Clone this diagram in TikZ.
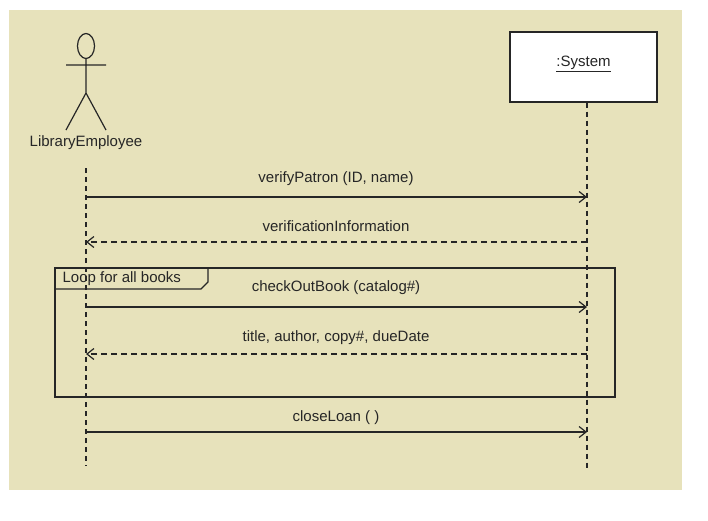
\documentclass[tikz,border=0pt]{standalone}
\usepackage{fontspec}
\setmainfont{Liberation Sans}
\usetikzlibrary{arrows.meta}
\begin{document}
\begin{tikzpicture}[x=1pt,y=-1pt,line width=1.2pt,
  ln/.style={draw=black!85},
  life/.style={ln,dash pattern=on 5pt off 4pt},
  msg/.style={ln,-{Straight Barb[length=7pt,width=11pt]}},
  ret/.style={ln,dash pattern=on 6pt off 4pt,-{Straight Barb[length=7pt,width=11pt]}},
  lbl/.style={font=\fontsize{15}{17}\selectfont,text=black!85,inner sep=1pt}]
\useasboundingbox (0,0) rectangle (708,520);
\fill[fill={rgb,255:red,231;green,226;blue,187}] (9,10) rectangle (682,490);
% actor
\draw[ln] (86,46) ellipse (8.5 and 12.5);
\draw[ln] (86,58.5) -- (86,93) (66,65) -- (106,65) (66,130) -- (86,93) -- (106,130);
\node[lbl] (actor) at (86,143) {LibraryEmployee};
\coordinate (a0) at (86,168); \coordinate (a1) at (86,466);
\draw[life] (a0) -- (a1);
% system
\node[ln,fill=white,minimum width=147pt,minimum height=70pt,inner sep=0pt] (sys) at (583.5,67) {};
\node[lbl] (syslbl) at (583.5,64) {\underline{:System}};
\coordinate (s1) at (587,468);
\draw[life] (sys.south -| s1) -- (s1);
% loop
\draw[ln] (55,268) rectangle (615,397);
\draw[ln] (55,289) -- (201,289) -- (208,282) -- (208,268);
\node[lbl,anchor=west] (loopl) at (61,279) {Loop for all books};
% messages
\foreach \y/\n in {197/m1,242/m2,307/m3,354/m4,432/m5}{
  \coordinate (L\n) at (86,\y); \coordinate (R\n) at (587,\y);}
\draw[msg] (Lm1) -- (Rm1); \node[lbl] (t1) at (336,179) {verifyPatron (ID, name)};
\draw[ret] (Rm2) -- (Lm2); \node[lbl] (t2) at (336,226) {verificationInformation};
\draw[msg] (Lm3) -- (Rm3); \node[lbl] (t3) at (336,288) {checkOutBook (catalog\#)};
\draw[ret] (Rm4) -- (Lm4); \node[lbl] (t4) at (336,338) {title, author, copy\#, dueDate};
\draw[msg] (Lm5) -- (Rm5); \node[lbl] (t5) at (336,418) {closeLoan ( )};
\end{tikzpicture}
\end{document}
